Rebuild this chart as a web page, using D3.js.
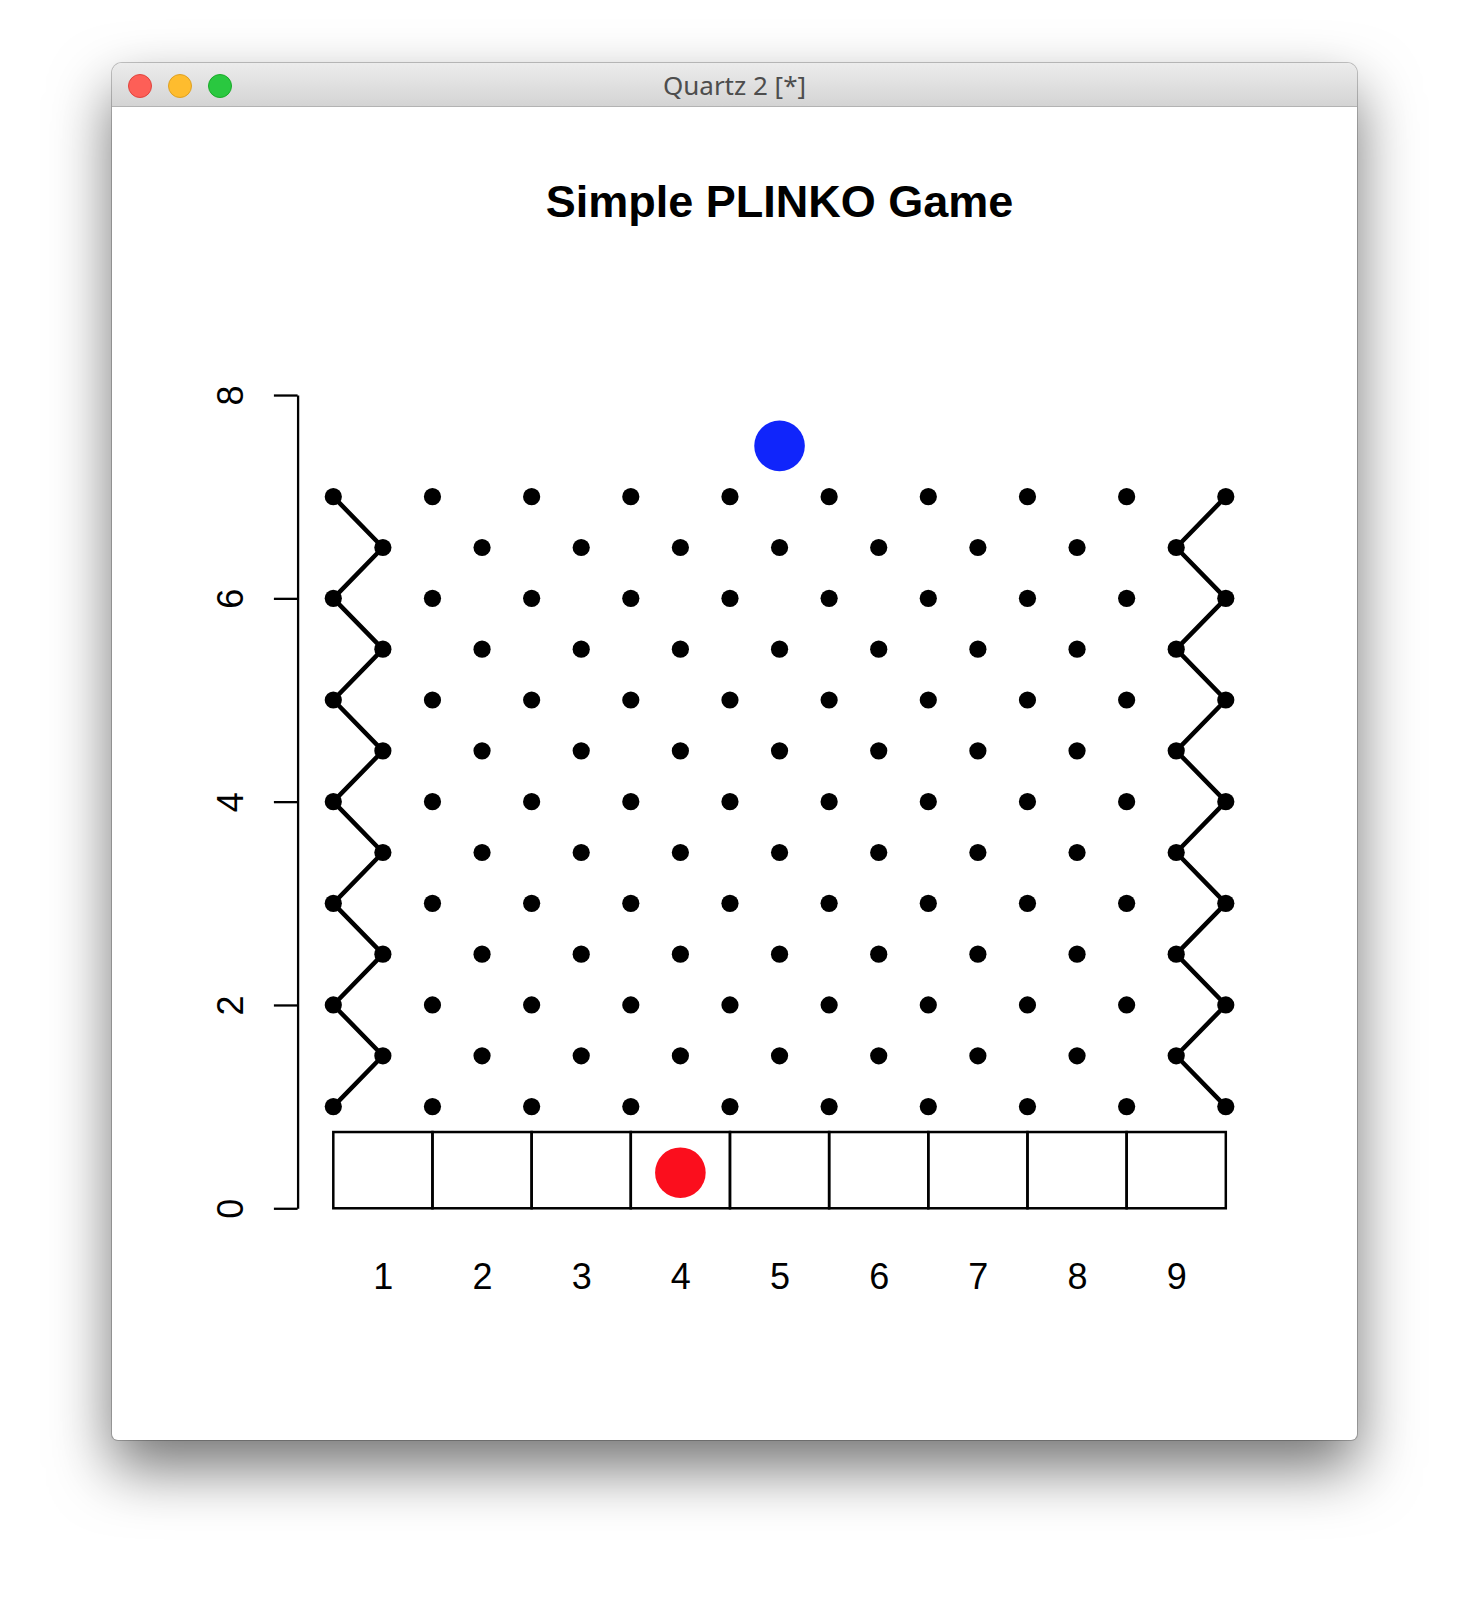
<!DOCTYPE html>
<html>
<head>
<meta charset="utf-8">
<script src="https://cdn.jsdelivr.net/npm/d3@7"></script>
<style>
  body { margin: 0; background: #fff; width: 1468px; height: 1600px; overflow: hidden; }
  #win {
    position: absolute; left: 112px; top: 63px; width: 1245px; height: 1377px;
    background: #fff; border-radius: 10px 10px 6px 6px;
    box-shadow: 0 28px 60px rgba(0,0,0,0.55), 0 0 0 1px rgba(0,0,0,0.22);
    overflow: hidden;
  }
  #titlebar {
    height: 43px; border-bottom: 1px solid #b3b3b3;
    background: linear-gradient(#ececec, #d4d4d4);
    position: relative;
    font-family: "Noto Sans", "Liberation Sans", sans-serif;
    font-size: 26px; color: #4d4d4d; text-align: center; line-height: 44px;
  }
  .light { position: absolute; top: 11px; width: 22px; height: 22px; border-radius: 50%; }
  #chart { display: block; }
</style>
</head>
<body>
<div id="win">
  <div id="titlebar">
    <div class="light" style="left:16px;background:#fd5f57;border:1px solid #e0443e;"></div>
    <div class="light" style="left:56px;background:#febc2e;border:1px solid #dea123;"></div>
    <div class="light" style="left:96px;background:#2ac840;border:1px solid #1aab29;"></div>
    Quartz 2 [*]
  </div>
  <svg id="chart" width="1245" height="1333"></svg>
</div>
<script>
// peg grid: full rows at integer heights, offset rows at half heights
var fullRowX = [0.5, 1.5, 2.5, 3.5, 4.5, 5.5, 6.5, 7.5, 8.5, 9.5];
var fullRowY = [1, 2, 3, 4, 5, 6, 7];
var halfRowX = [1, 2, 3, 4, 5, 6, 7, 8, 9];
var halfRowY = [1.5, 2.5, 3.5, 4.5, 5.5, 6.5];

// zigzag walls on both sides
var wallY      = [1, 1.5, 2, 2.5, 3, 3.5, 4, 4.5, 5, 5.5, 6, 6.5, 7];
var leftWallX  = [0.5, 1, 0.5, 1, 0.5, 1, 0.5, 1, 0.5, 1, 0.5, 1, 0.5];
var rightWallX = [9.5, 9, 9.5, 9, 9.5, 9, 9.5, 9, 9.5, 9, 9.5, 9, 9.5];

// bins at the bottom
var binLabels = [1, 2, 3, 4, 5, 6, 7, 8, 9];
var binTop = 0.75;

var yTicks = [0, 2, 4, 6, 8];

var dropBall = {x: 5, y: 7.5};
var landedBall = {x: 4, y: 0.35};

var svg = d3.select("#chart");

var plotLeft = 185.6, plotRight = 1149.5, plotTop = 255.5, plotBottom = 1133.8;

var x = d3.scaleLinear().domain([0.14, 9.86]).range([plotLeft, plotRight]);
var y = d3.scaleLinear().domain([-0.32, 8.32]).range([plotBottom, plotTop]);

// title
svg.append("text")
   .attr("x", (plotLeft + plotRight) / 2)
   .attr("y", 109.7)
   .attr("text-anchor", "middle")
   .attr("font-family", "Liberation Sans, Arial, sans-serif")
   .attr("font-weight", "bold")
   .attr("font-size", 45)
   .text("Simple PLINKO Game");

// y axis, line only from first to last tick like R
var yAxisScale = d3.scaleLinear().domain([0, 8]).range([y(0), y(8)]);
var yAxis = d3.axisLeft(yAxisScale).tickValues(yTicks).tickSize(23.7).tickSizeOuter(0);

var yg = svg.append("g")
   .attr("transform", "translate(" + plotLeft + ",0)")
   .call(yAxis);
yg.selectAll("path, line").attr("stroke", "#000").attr("stroke-width", 2.3);
yg.selectAll("text")
   .attr("x", null).attr("dy", null)
   .attr("text-anchor", "middle")
   .attr("transform", "translate(-54.9,0) rotate(-90)")
   .attr("font-family", "Liberation Sans, Arial, sans-serif")
   .attr("font-size", 36)
   .attr("fill", "#000");

// x labels (no axis line)
var xAxis = d3.axisBottom(x).tickValues(binLabels).tickSize(0);
var xg = svg.append("g")
   .attr("transform", "translate(0," + plotBottom + ")")
   .call(xAxis);
xg.select(".domain").remove();
xg.selectAll("text")
   .attr("y", 48.5).attr("dy", null)
   .attr("font-family", "Liberation Sans, Arial, sans-serif")
   .attr("font-size", 36)
   .attr("fill", "#000");

// bins
svg.append("g").selectAll("rect")
   .data(binLabels)
   .enter()
      .append("rect")
      .attr("x", function(d) { return x(d - 0.5); })
      .attr("y", y(binTop))
      .attr("width", function(d) { return x(d + 0.5) - x(d - 0.5); })
      .attr("height", y(0) - y(binTop))
      .attr("fill", "none")
      .attr("stroke", "#000")
      .attr("stroke-width", 2.5);

// walls
var wallLine = d3.line()
   .x(function(d) { return x(d[0]); })
   .y(function(d) { return y(d[1]); });

[leftWallX, rightWallX].forEach(function(wx) {
  svg.append("path")
     .datum(d3.zip(wx, wallY))
     .attr("d", wallLine)
     .attr("fill", "none")
     .attr("stroke", "#000")
     .attr("stroke-width", 4.5)
     .attr("stroke-linejoin", "round");
});

// pegs
var pegs = d3.cross(fullRowX, fullRowY).concat(d3.cross(halfRowX, halfRowY));

svg.append("g").selectAll("circle")
   .data(pegs)
   .enter()
      .append("circle")
      .attr("cx", function(d) { return x(d[0]); })
      .attr("cy", function(d) { return y(d[1]); })
      .attr("r", 8.6)
      .attr("fill", "#000");

// balls
svg.append("circle")
   .attr("cx", x(dropBall.x))
   .attr("cy", y(dropBall.y))
   .attr("r", 25.3)
   .attr("fill", "#1025fb");

svg.append("circle")
   .attr("cx", x(landedBall.x))
   .attr("cy", y(landedBall.y))
   .attr("r", 25.3)
   .attr("fill", "#fb0e1d");
</script>
</body>
</html>
